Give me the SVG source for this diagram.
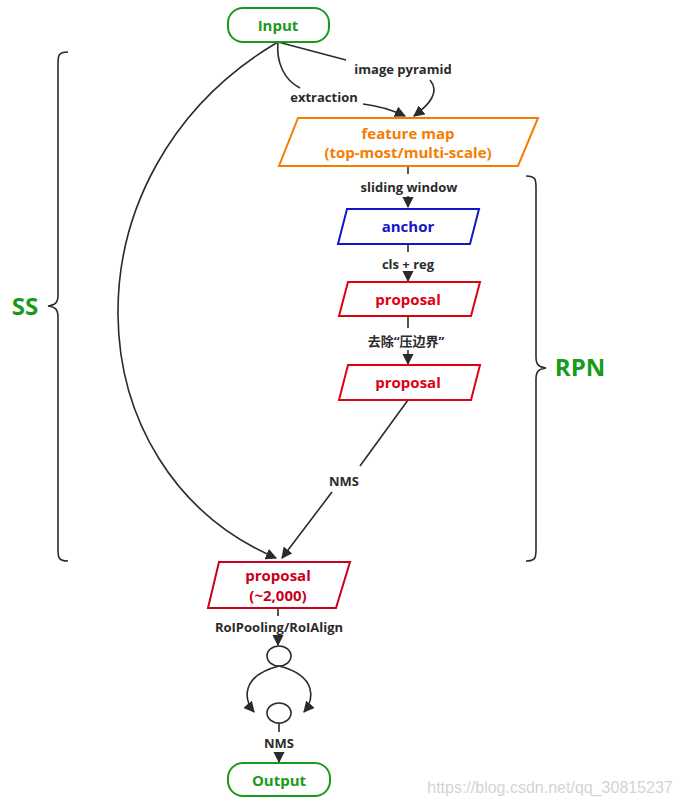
<svg xmlns="http://www.w3.org/2000/svg" width="683" height="806" viewBox="0 0 683 806">
<style>
text{font-family:"Open Sans","DejaVu Sans","Noto Sans CJK SC",sans-serif;font-weight:bold;text-anchor:middle}
.lbl{font-size:13px;fill:#2b2b2b}
.node{font-size:15px}
.ln{fill:none;stroke:#2b2b2b;stroke-width:1.6}
</style>
<defs><marker id="a" viewBox="0 0 10 10" refX="9" refY="5" markerWidth="7" markerHeight="7" orient="auto"><path d="M0,0L10,5L0,10z" fill="#2b2b2b"/></marker></defs>
<rect width="683" height="806" fill="#fff"/>
<g id="connectors">
<path class="ln" d="M278,42 C60,170 70,470 276,558" marker-end="url(#a)"/>
<path class="ln" d="M278,42 L346,60 M430,80 C440,92 430,104 414,116" marker-end="url(#a)"/>
<path class="ln" d="M278,42 C276,62 284,80 300,88"/>
<path class="ln" d="M363,104 C380,106 392,110 405,116" marker-end="url(#a)"/>
<path class="ln" d="M408,166 V174 M408,196 V207" marker-end="url(#a)"/>
<path class="ln" d="M408,244 V252 M408,273 V281" marker-end="url(#a)"/>
<path class="ln" d="M408,316 V328 M408,350 V364" marker-end="url(#a)"/>
<path class="ln" d="M408,400 L360,466 M332,492 L282,558" marker-end="url(#a)"/>
<path class="ln" d="M278,608 V616 M278,636 V645" marker-end="url(#a)"/>
<path class="ln" d="M279,666 C240,676 244,700 254,712" marker-end="url(#a)"/>
<path class="ln" d="M279,666 C318,676 314,700 304,712" marker-end="url(#a)"/>
<path class="ln" d="M279,723 V732 M279,753 V762" marker-end="url(#a)"/>
</g>
<g class="lbl">
<text class="lbl" x="403" y="74">image pyramid</text>
<text class="lbl" x="324" y="102">extraction</text>
<text class="lbl" x="409" y="192">sliding window</text>
<text class="lbl" x="408" y="269">cls + reg</text>
<text class="lbl" x="406" y="346">去除“压边界”</text>
<text class="lbl" x="344" y="486">NMS</text>
<text class="lbl" x="279" y="632">RoIPooling/RoIAlign</text>
<text class="lbl" x="279" y="748">NMS</text>
</g>
<g id="input"><rect x="228" y="8" width="101" height="34" rx="15" fill="#fff" stroke="#1a9a1a" stroke-width="2"/><text class="node" x="278" y="31" fill="#1a9a1a" font-size="17">Input</text></g>
<g id="featuremap"><polygon points="298,118 538,118 518,166 279,166" fill="#fff" stroke="#f57c00" stroke-width="2"/><text class="node" x="408" y="139" fill="#f57c00" font-size="14">feature map</text><text class="node" x="408" y="158" fill="#f57c00" font-size="14">(top-most/multi-scale)</text></g>
<g id="anchor"><polygon points="347,209 479,209 470,244 338,244" fill="#fff" stroke="#1414c8" stroke-width="2"/><text class="node" x="408" y="232" fill="#1414c8">anchor</text></g>
<g id="proposal1"><polygon points="348,282 480,282 471,316 339,316" fill="#fff" stroke="#e00012" stroke-width="2"/><text class="node" x="408" y="305" fill="#e00012">proposal</text></g>
<g id="proposal2"><polygon points="348,365 480,365 471,400 339,400" fill="#fff" stroke="#e00012" stroke-width="2"/><text class="node" x="408" y="388" fill="#e00012">proposal</text></g>
<g id="proposal3"><polygon points="219,562 350,562 336,608 208,608" fill="#fff" stroke="#c8001e" stroke-width="2"/><text class="node" x="278" y="581" fill="#c8001e">proposal</text><text class="node" x="278" y="601" fill="#c8001e">(~2,000)</text></g>
<g id="c1"><ellipse cx="279" cy="656" rx="12" ry="10" fill="#fff" stroke="#2b2b2b" stroke-width="1.6"/></g>
<g id="c2"><ellipse cx="279" cy="713" rx="12" ry="10" fill="#fff" stroke="#2b2b2b" stroke-width="1.6"/></g>
<g id="output"><rect x="228" y="763" width="102" height="33" rx="15" fill="#fff" stroke="#1a9a1a" stroke-width="2"/><text class="node" x="279" y="786" fill="#1a9a1a" font-size="17">Output</text></g>
<g id="ss"><path class="ln" d="M68,52 C58,52 58,56 58,64 V295 C58,303 55,305 48,306 C55,307 58,309 58,317 V549 C58,557 58,561 68,561"/><text x="25" y="315" fill="#1a9a1a" font-size="24">SS</text></g>
<g id="rpn"><path class="ln" d="M526,176 C536,176 536,180 536,188 V357 C536,365 539,367 546,368 C539,369 536,371 536,379 V549 C536,557 536,561 526,561"/><text x="580" y="376" fill="#1a9a1a" font-size="24">RPN</text></g>
<text x="550" y="793" fill="#d4d4d4" font-size="16" style="font-family:'Liberation Sans',sans-serif;font-weight:normal">https://blog.csdn.net/qq_30815237</text>
</svg>
